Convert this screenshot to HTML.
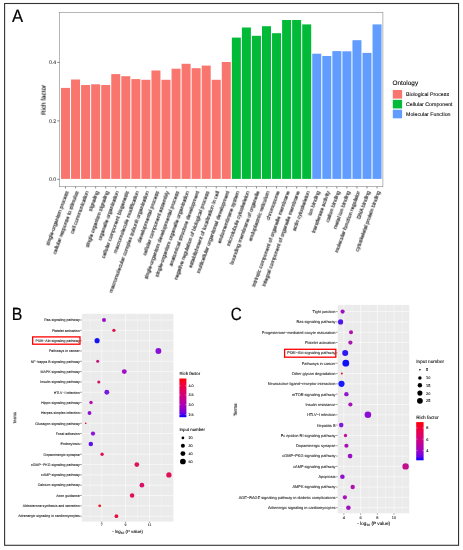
<!DOCTYPE html>
<html lang="en">
<head>
<meta charset="utf-8">
<title>GO and KEGG enrichment figure</title>
<style>
html,body{margin:0;padding:0;background:#fff;}
body{width:463px;height:550px;overflow:hidden;}
svg{display:block;font-family:"Liberation Sans", Arial, Helvetica, sans-serif;}
svg text{text-rendering:geometricPrecision;}
svg .sm text{filter:blur(0.3px);}
svg .sm text.big{filter:blur(0.2px);}
</style>
</head>
<body>
<svg width="463" height="550" viewBox="0 0 463 550">
<rect x="0" y="0" width="463" height="550" fill="#ffffff"/>
<g id="panelA" class="sm">
<text class="big" transform="translate(12,22) scale(0.94,1)" font-size="17.7" fill="#000" stroke="#000" stroke-width="0.2">A</text>
<g shape-rendering="geometricPrecision">
<rect x="61.00" y="87.90" width="9.0" height="91.00" fill="#F8766D"/>
<rect x="71.05" y="79.50" width="9.0" height="99.40" fill="#F8766D"/>
<rect x="81.10" y="85.00" width="9.0" height="93.90" fill="#F8766D"/>
<rect x="91.15" y="84.30" width="9.0" height="94.60" fill="#F8766D"/>
<rect x="101.20" y="85.00" width="9.0" height="93.90" fill="#F8766D"/>
<rect x="111.25" y="74.10" width="9.0" height="104.80" fill="#F8766D"/>
<rect x="121.30" y="76.20" width="9.0" height="102.70" fill="#F8766D"/>
<rect x="131.35" y="79.10" width="9.0" height="99.80" fill="#F8766D"/>
<rect x="141.40" y="79.80" width="9.0" height="99.10" fill="#F8766D"/>
<rect x="151.45" y="70.50" width="9.0" height="108.40" fill="#F8766D"/>
<rect x="161.50" y="79.80" width="9.0" height="99.10" fill="#F8766D"/>
<rect x="171.55" y="68.70" width="9.0" height="110.20" fill="#F8766D"/>
<rect x="181.60" y="63.80" width="9.0" height="115.10" fill="#F8766D"/>
<rect x="191.65" y="68.20" width="9.0" height="110.70" fill="#F8766D"/>
<rect x="201.70" y="65.60" width="9.0" height="113.30" fill="#F8766D"/>
<rect x="211.75" y="79.80" width="9.0" height="99.10" fill="#F8766D"/>
<rect x="221.80" y="62.00" width="9.0" height="116.90" fill="#F8766D"/>
<rect x="231.85" y="37.60" width="9.0" height="141.30" fill="#00BA38"/>
<rect x="241.90" y="27.50" width="9.0" height="151.40" fill="#00BA38"/>
<rect x="251.95" y="35.80" width="9.0" height="143.10" fill="#00BA38"/>
<rect x="262.00" y="26.20" width="9.0" height="152.70" fill="#00BA38"/>
<rect x="272.05" y="33.20" width="9.0" height="145.70" fill="#00BA38"/>
<rect x="282.10" y="20.00" width="9.0" height="158.90" fill="#00BA38"/>
<rect x="292.15" y="20.00" width="9.0" height="158.90" fill="#00BA38"/>
<rect x="302.20" y="24.40" width="9.0" height="154.50" fill="#00BA38"/>
<rect x="312.25" y="53.70" width="9.0" height="125.20" fill="#619CFF"/>
<rect x="322.30" y="56.00" width="9.0" height="122.90" fill="#619CFF"/>
<rect x="332.35" y="51.10" width="9.0" height="127.80" fill="#619CFF"/>
<rect x="342.40" y="51.30" width="9.0" height="127.60" fill="#619CFF"/>
<rect x="352.45" y="40.20" width="9.0" height="138.70" fill="#619CFF"/>
<rect x="362.50" y="52.90" width="9.0" height="126.00" fill="#619CFF"/>
<rect x="372.55" y="24.40" width="9.0" height="154.50" fill="#619CFF"/>
</g>
<rect x="59.4" y="12.3" width="323.50" height="174.40" fill="none" stroke="#858585" stroke-width="0.6"/>
<line x1="57.20" x2="59.4" y1="62.4" y2="62.4" stroke="#333" stroke-width="0.6"/>
<text x="56.199999999999996" y="64.20" font-size="5.2" text-anchor="end" fill="#333" stroke="#333" stroke-width="0.08">0.4</text>
<line x1="57.20" x2="59.4" y1="120.9" y2="120.9" stroke="#333" stroke-width="0.6"/>
<text x="56.199999999999996" y="122.70" font-size="5.2" text-anchor="end" fill="#333" stroke="#333" stroke-width="0.08">0.2</text>
<line x1="57.20" x2="59.4" y1="179.3" y2="179.3" stroke="#333" stroke-width="0.6"/>
<text x="56.199999999999996" y="181.10" font-size="5.2" text-anchor="end" fill="#333" stroke="#333" stroke-width="0.08">0.0</text>
<text transform="translate(45.6,99.9) rotate(-90)" font-size="6.3" text-anchor="middle" fill="#000" stroke="#000" stroke-width="0.08">Rich factor</text>
<line x1="65.50" x2="65.50" y1="186.7" y2="188.40" stroke="#333" stroke-width="0.6"/>
<text transform="translate(68.70,191.80) rotate(-70)" font-size="5.3" text-anchor="end" fill="#262626" stroke="#262626" stroke-width="0.16">single-organism process</text>
<line x1="75.55" x2="75.55" y1="186.7" y2="188.40" stroke="#333" stroke-width="0.6"/>
<text transform="translate(78.75,191.80) rotate(-70)" font-size="5.3" text-anchor="end" fill="#262626" stroke="#262626" stroke-width="0.16">cellular response to stimulus</text>
<line x1="85.60" x2="85.60" y1="186.7" y2="188.40" stroke="#333" stroke-width="0.6"/>
<text transform="translate(88.80,191.80) rotate(-70)" font-size="5.3" text-anchor="end" fill="#262626" stroke="#262626" stroke-width="0.16">cell communication</text>
<line x1="95.65" x2="95.65" y1="186.7" y2="188.40" stroke="#333" stroke-width="0.6"/>
<text transform="translate(98.85,191.80) rotate(-70)" font-size="5.3" text-anchor="end" fill="#262626" stroke="#262626" stroke-width="0.16">signaling</text>
<line x1="105.70" x2="105.70" y1="186.7" y2="188.40" stroke="#333" stroke-width="0.6"/>
<text transform="translate(108.90,191.80) rotate(-70)" font-size="5.3" text-anchor="end" fill="#262626" stroke="#262626" stroke-width="0.16">single organism signaling</text>
<line x1="115.75" x2="115.75" y1="186.7" y2="188.40" stroke="#333" stroke-width="0.6"/>
<text transform="translate(118.95,191.80) rotate(-70)" font-size="5.3" text-anchor="end" fill="#262626" stroke="#262626" stroke-width="0.16">organelle organization</text>
<line x1="125.80" x2="125.80" y1="186.7" y2="188.40" stroke="#333" stroke-width="0.6"/>
<text transform="translate(129.00,191.80) rotate(-70)" font-size="5.3" text-anchor="end" fill="#262626" stroke="#262626" stroke-width="0.16">cellular component biogenesis</text>
<line x1="135.85" x2="135.85" y1="186.7" y2="188.40" stroke="#333" stroke-width="0.6"/>
<text transform="translate(139.05,191.80) rotate(-70)" font-size="5.3" text-anchor="end" fill="#262626" stroke="#262626" stroke-width="0.16">macromolecule modification</text>
<line x1="145.90" x2="145.90" y1="186.7" y2="188.40" stroke="#333" stroke-width="0.6"/>
<text transform="translate(149.10,191.80) rotate(-70)" font-size="5.3" text-anchor="end" fill="#262626" stroke="#262626" stroke-width="0.16">macromolecular complex subunit organization</text>
<line x1="155.95" x2="155.95" y1="186.7" y2="188.40" stroke="#333" stroke-width="0.6"/>
<text transform="translate(159.15,191.80) rotate(-70)" font-size="5.3" text-anchor="end" fill="#262626" stroke="#262626" stroke-width="0.16">developmental process</text>
<line x1="166.00" x2="166.00" y1="186.7" y2="188.40" stroke="#333" stroke-width="0.6"/>
<text transform="translate(169.20,191.80) rotate(-70)" font-size="5.3" text-anchor="end" fill="#262626" stroke="#262626" stroke-width="0.16">cellular component assembly</text>
<line x1="176.05" x2="176.05" y1="186.7" y2="188.40" stroke="#333" stroke-width="0.6"/>
<text transform="translate(179.25,191.80) rotate(-70)" font-size="5.3" text-anchor="end" fill="#262626" stroke="#262626" stroke-width="0.16">single-organism developmental process</text>
<line x1="186.10" x2="186.10" y1="186.7" y2="188.40" stroke="#333" stroke-width="0.6"/>
<text transform="translate(189.30,191.80) rotate(-70)" font-size="5.3" text-anchor="end" fill="#262626" stroke="#262626" stroke-width="0.16">single-organism organelle organization</text>
<line x1="196.15" x2="196.15" y1="186.7" y2="188.40" stroke="#333" stroke-width="0.6"/>
<text transform="translate(199.35,191.80) rotate(-70)" font-size="5.3" text-anchor="end" fill="#262626" stroke="#262626" stroke-width="0.16">anatomical structure development</text>
<line x1="206.20" x2="206.20" y1="186.7" y2="188.40" stroke="#333" stroke-width="0.6"/>
<text transform="translate(209.40,191.80) rotate(-70)" font-size="5.3" text-anchor="end" fill="#262626" stroke="#262626" stroke-width="0.16">negative regulation of biological process</text>
<line x1="216.25" x2="216.25" y1="186.7" y2="188.40" stroke="#333" stroke-width="0.6"/>
<text transform="translate(219.45,191.80) rotate(-70)" font-size="5.3" text-anchor="end" fill="#262626" stroke="#262626" stroke-width="0.16">establishment of localization in cell</text>
<line x1="226.30" x2="226.30" y1="186.7" y2="188.40" stroke="#333" stroke-width="0.6"/>
<text transform="translate(229.50,191.80) rotate(-70)" font-size="5.3" text-anchor="end" fill="#262626" stroke="#262626" stroke-width="0.16">multicellular organismal development</text>
<line x1="236.35" x2="236.35" y1="186.7" y2="188.40" stroke="#333" stroke-width="0.6"/>
<text transform="translate(239.55,191.80) rotate(-70)" font-size="5.3" text-anchor="end" fill="#262626" stroke="#262626" stroke-width="0.16">endomembrane system</text>
<line x1="246.40" x2="246.40" y1="186.7" y2="188.40" stroke="#333" stroke-width="0.6"/>
<text transform="translate(249.60,191.80) rotate(-70)" font-size="5.3" text-anchor="end" fill="#262626" stroke="#262626" stroke-width="0.16">microtubule cytoskeleton</text>
<line x1="256.45" x2="256.45" y1="186.7" y2="188.40" stroke="#333" stroke-width="0.6"/>
<text transform="translate(259.65,191.80) rotate(-70)" font-size="5.3" text-anchor="end" fill="#262626" stroke="#262626" stroke-width="0.16">bounding membrane of organelle</text>
<line x1="266.50" x2="266.50" y1="186.7" y2="188.40" stroke="#333" stroke-width="0.6"/>
<text transform="translate(269.70,191.80) rotate(-70)" font-size="5.3" text-anchor="end" fill="#262626" stroke="#262626" stroke-width="0.16">endoplasmic reticulum</text>
<line x1="276.55" x2="276.55" y1="186.7" y2="188.40" stroke="#333" stroke-width="0.6"/>
<text transform="translate(279.75,191.80) rotate(-70)" font-size="5.3" text-anchor="end" fill="#262626" stroke="#262626" stroke-width="0.16">chromosome</text>
<line x1="286.60" x2="286.60" y1="186.7" y2="188.40" stroke="#333" stroke-width="0.6"/>
<text transform="translate(289.80,191.80) rotate(-70)" font-size="5.3" text-anchor="end" fill="#262626" stroke="#262626" stroke-width="0.16">intrinsic component of organelle membrane</text>
<line x1="296.65" x2="296.65" y1="186.7" y2="188.40" stroke="#333" stroke-width="0.6"/>
<text transform="translate(299.85,191.80) rotate(-70)" font-size="5.3" text-anchor="end" fill="#262626" stroke="#262626" stroke-width="0.16">integral component of organelle membrane</text>
<line x1="306.70" x2="306.70" y1="186.7" y2="188.40" stroke="#333" stroke-width="0.6"/>
<text transform="translate(309.90,191.80) rotate(-70)" font-size="5.3" text-anchor="end" fill="#262626" stroke="#262626" stroke-width="0.16">actin cytoskeleton</text>
<line x1="316.75" x2="316.75" y1="186.7" y2="188.40" stroke="#333" stroke-width="0.6"/>
<text transform="translate(319.95,191.80) rotate(-70)" font-size="5.3" text-anchor="end" fill="#262626" stroke="#262626" stroke-width="0.16">ion binding</text>
<line x1="326.80" x2="326.80" y1="186.7" y2="188.40" stroke="#333" stroke-width="0.6"/>
<text transform="translate(330.00,191.80) rotate(-70)" font-size="5.3" text-anchor="end" fill="#262626" stroke="#262626" stroke-width="0.16">transferase activity</text>
<line x1="336.85" x2="336.85" y1="186.7" y2="188.40" stroke="#333" stroke-width="0.6"/>
<text transform="translate(340.05,191.80) rotate(-70)" font-size="5.3" text-anchor="end" fill="#262626" stroke="#262626" stroke-width="0.16">cation binding</text>
<line x1="346.90" x2="346.90" y1="186.7" y2="188.40" stroke="#333" stroke-width="0.6"/>
<text transform="translate(350.10,191.80) rotate(-70)" font-size="5.3" text-anchor="end" fill="#262626" stroke="#262626" stroke-width="0.16">metal ion binding</text>
<line x1="356.95" x2="356.95" y1="186.7" y2="188.40" stroke="#333" stroke-width="0.6"/>
<text transform="translate(360.15,191.80) rotate(-70)" font-size="5.3" text-anchor="end" fill="#262626" stroke="#262626" stroke-width="0.16">molecular function regulator</text>
<line x1="367.00" x2="367.00" y1="186.7" y2="188.40" stroke="#333" stroke-width="0.6"/>
<text transform="translate(370.20,191.80) rotate(-70)" font-size="5.3" text-anchor="end" fill="#262626" stroke="#262626" stroke-width="0.16">DNA binding</text>
<line x1="377.05" x2="377.05" y1="186.7" y2="188.40" stroke="#333" stroke-width="0.6"/>
<text transform="translate(380.25,191.80) rotate(-70)" font-size="5.3" text-anchor="end" fill="#262626" stroke="#262626" stroke-width="0.16">cytoskeletal protein binding</text>
<text x="392.5" y="85.2" font-size="6.4" fill="#000" stroke="#000" stroke-width="0.08">Ontology</text>
<rect x="392.8" y="90.00" width="9.3" height="8.6" fill="#F8766D"/>
<text x="406" y="96.10" font-size="5.27" fill="#000" stroke="#000" stroke-width="0.08">Biological Process</text>
<rect x="392.8" y="99.85" width="9.3" height="8.6" fill="#00BA38"/>
<text x="406" y="105.95" font-size="5.27" fill="#000" stroke="#000" stroke-width="0.08">Cellular Component</text>
<rect x="392.8" y="109.70" width="9.3" height="8.6" fill="#619CFF"/>
<text x="406" y="115.80" font-size="5.27" fill="#000" stroke="#000" stroke-width="0.08">Molecular Function</text>
</g>
<g id="panelB" class="sm">
<text class="big" transform="translate(11.8,319.9) scale(0.9,1)" font-size="17.7" fill="#000" stroke="#000" stroke-width="0.2">B</text>
<rect x="81.9" y="313.8" width="91.50" height="207.80" fill="#EBEBEB"/>
<line x1="89.90" x2="89.90" y1="313.8" y2="521.6" stroke="#FFFFFF" stroke-width="0.3" opacity="0.8"/>
<line x1="113.70" x2="113.70" y1="313.8" y2="521.6" stroke="#FFFFFF" stroke-width="0.3" opacity="0.8"/>
<line x1="137.60" x2="137.60" y1="313.8" y2="521.6" stroke="#FFFFFF" stroke-width="0.3" opacity="0.8"/>
<line x1="161.50" x2="161.50" y1="313.8" y2="521.6" stroke="#FFFFFF" stroke-width="0.3" opacity="0.8"/>
<line x1="101.80" x2="101.80" y1="313.8" y2="521.6" stroke="#FFFFFF" stroke-width="0.55"/>
<line x1="125.60" x2="125.60" y1="313.8" y2="521.6" stroke="#FFFFFF" stroke-width="0.55"/>
<line x1="149.60" x2="149.60" y1="313.8" y2="521.6" stroke="#FFFFFF" stroke-width="0.55"/>
<line x1="81.9" x2="173.4" y1="320.00" y2="320.00" stroke="#FFFFFF" stroke-width="0.55"/>
<line x1="81.9" x2="173.4" y1="330.32" y2="330.32" stroke="#FFFFFF" stroke-width="0.55"/>
<line x1="81.9" x2="173.4" y1="340.65" y2="340.65" stroke="#FFFFFF" stroke-width="0.55"/>
<line x1="81.9" x2="173.4" y1="350.98" y2="350.98" stroke="#FFFFFF" stroke-width="0.55"/>
<line x1="81.9" x2="173.4" y1="361.30" y2="361.30" stroke="#FFFFFF" stroke-width="0.55"/>
<line x1="81.9" x2="173.4" y1="371.62" y2="371.62" stroke="#FFFFFF" stroke-width="0.55"/>
<line x1="81.9" x2="173.4" y1="381.95" y2="381.95" stroke="#FFFFFF" stroke-width="0.55"/>
<line x1="81.9" x2="173.4" y1="392.27" y2="392.27" stroke="#FFFFFF" stroke-width="0.55"/>
<line x1="81.9" x2="173.4" y1="402.60" y2="402.60" stroke="#FFFFFF" stroke-width="0.55"/>
<line x1="81.9" x2="173.4" y1="412.93" y2="412.93" stroke="#FFFFFF" stroke-width="0.55"/>
<line x1="81.9" x2="173.4" y1="423.25" y2="423.25" stroke="#FFFFFF" stroke-width="0.55"/>
<line x1="81.9" x2="173.4" y1="433.57" y2="433.57" stroke="#FFFFFF" stroke-width="0.55"/>
<line x1="81.9" x2="173.4" y1="443.90" y2="443.90" stroke="#FFFFFF" stroke-width="0.55"/>
<line x1="81.9" x2="173.4" y1="454.23" y2="454.23" stroke="#FFFFFF" stroke-width="0.55"/>
<line x1="81.9" x2="173.4" y1="464.55" y2="464.55" stroke="#FFFFFF" stroke-width="0.55"/>
<line x1="81.9" x2="173.4" y1="474.88" y2="474.88" stroke="#FFFFFF" stroke-width="0.55"/>
<line x1="81.9" x2="173.4" y1="485.20" y2="485.20" stroke="#FFFFFF" stroke-width="0.55"/>
<line x1="81.9" x2="173.4" y1="495.52" y2="495.52" stroke="#FFFFFF" stroke-width="0.55"/>
<line x1="81.9" x2="173.4" y1="505.85" y2="505.85" stroke="#FFFFFF" stroke-width="0.55"/>
<line x1="81.9" x2="173.4" y1="516.17" y2="516.17" stroke="#FFFFFF" stroke-width="0.55"/>
<line x1="80.00" x2="81.9" y1="320.00" y2="320.00" stroke="#333" stroke-width="0.45"/>
<text x="79.70" y="321.28" font-size="3.55" text-anchor="end" fill="#363636" stroke="#363636" stroke-width="0.11">Ras signaling pathway</text>
<circle cx="104.0" cy="320.00" r="2.05" fill="#9B10C8"/>
<line x1="80.00" x2="81.9" y1="330.32" y2="330.32" stroke="#333" stroke-width="0.45"/>
<text x="79.70" y="331.60" font-size="3.55" text-anchor="end" fill="#363636" stroke="#363636" stroke-width="0.11">Platelet activation</text>
<circle cx="113.9" cy="330.32" r="1.65" fill="#E0104A"/>
<line x1="80.00" x2="81.9" y1="340.65" y2="340.65" stroke="#333" stroke-width="0.45"/>
<text x="79.70" y="341.93" font-size="3.55" text-anchor="end" fill="#363636" stroke="#363636" stroke-width="0.11">PI3K−Akt signaling pathway</text>
<circle cx="97.1" cy="340.65" r="2.55" fill="#1414F0"/>
<line x1="80.00" x2="81.9" y1="350.98" y2="350.98" stroke="#333" stroke-width="0.45"/>
<text x="79.70" y="352.25" font-size="3.55" text-anchor="end" fill="#363636" stroke="#363636" stroke-width="0.11">Pathways in cancer</text>
<circle cx="158.4" cy="350.98" r="2.95" fill="#8A10D8"/>
<line x1="80.00" x2="81.9" y1="361.30" y2="361.30" stroke="#333" stroke-width="0.45"/>
<text x="79.70" y="362.58" font-size="3.55" text-anchor="end" fill="#363636" stroke="#363636" stroke-width="0.11">NF−kappa B signaling pathway</text>
<circle cx="97.7" cy="361.30" r="1.55" fill="#C81478"/>
<line x1="80.00" x2="81.9" y1="371.62" y2="371.62" stroke="#333" stroke-width="0.45"/>
<text x="79.70" y="372.90" font-size="3.55" text-anchor="end" fill="#363636" stroke="#363636" stroke-width="0.11">MAPK signaling pathway</text>
<circle cx="124.3" cy="371.62" r="2.45" fill="#A010C8"/>
<line x1="80.00" x2="81.9" y1="381.95" y2="381.95" stroke="#333" stroke-width="0.45"/>
<text x="79.70" y="383.23" font-size="3.55" text-anchor="end" fill="#363636" stroke="#363636" stroke-width="0.11">Insulin signaling pathway</text>
<circle cx="98.8" cy="381.95" r="1.55" fill="#D01460"/>
<line x1="80.00" x2="81.9" y1="392.27" y2="392.27" stroke="#333" stroke-width="0.45"/>
<text x="79.70" y="393.55" font-size="3.55" text-anchor="end" fill="#363636" stroke="#363636" stroke-width="0.11">HTLV−I infection</text>
<circle cx="106.8" cy="392.27" r="2.45" fill="#7818E0"/>
<line x1="80.00" x2="81.9" y1="402.60" y2="402.60" stroke="#333" stroke-width="0.45"/>
<text x="79.70" y="403.88" font-size="3.55" text-anchor="end" fill="#363636" stroke="#363636" stroke-width="0.11">Hippo signaling pathway</text>
<circle cx="91.0" cy="402.60" r="1.75" fill="#B010B0"/>
<line x1="80.00" x2="81.9" y1="412.93" y2="412.93" stroke="#333" stroke-width="0.45"/>
<text x="79.70" y="414.20" font-size="3.55" text-anchor="end" fill="#363636" stroke="#363636" stroke-width="0.11">Herpes simplex infection</text>
<circle cx="89.5" cy="412.93" r="1.95" fill="#9010D0"/>
<line x1="80.00" x2="81.9" y1="423.25" y2="423.25" stroke="#333" stroke-width="0.45"/>
<text x="79.70" y="424.53" font-size="3.55" text-anchor="end" fill="#363636" stroke="#363636" stroke-width="0.11">Glucagon signaling pathway</text>
<circle cx="85.7" cy="423.25" r="0.85" fill="#F01020"/>
<line x1="80.00" x2="81.9" y1="433.57" y2="433.57" stroke="#333" stroke-width="0.45"/>
<text x="79.70" y="434.85" font-size="3.55" text-anchor="end" fill="#363636" stroke="#363636" stroke-width="0.11">Focal adhesion</text>
<circle cx="93.0" cy="433.57" r="2.15" fill="#8A18D8"/>
<line x1="80.00" x2="81.9" y1="443.90" y2="443.90" stroke="#333" stroke-width="0.45"/>
<text x="79.70" y="445.18" font-size="3.55" text-anchor="end" fill="#363636" stroke="#363636" stroke-width="0.11">Endocytosis</text>
<circle cx="90.8" cy="443.90" r="2.25" fill="#5A10E8"/>
<line x1="80.00" x2="81.9" y1="454.23" y2="454.23" stroke="#333" stroke-width="0.45"/>
<text x="79.70" y="455.50" font-size="3.55" text-anchor="end" fill="#363636" stroke="#363636" stroke-width="0.11">Dopaminergic synapse</text>
<circle cx="102.1" cy="454.23" r="1.65" fill="#E01050"/>
<line x1="80.00" x2="81.9" y1="464.55" y2="464.55" stroke="#333" stroke-width="0.45"/>
<text x="79.70" y="465.83" font-size="3.55" text-anchor="end" fill="#363636" stroke="#363636" stroke-width="0.11">cGMP−PKG signaling pathway</text>
<circle cx="136.8" cy="464.55" r="2.35" fill="#E0105A"/>
<line x1="80.00" x2="81.9" y1="474.88" y2="474.88" stroke="#333" stroke-width="0.45"/>
<text x="79.70" y="476.15" font-size="3.55" text-anchor="end" fill="#363636" stroke="#363636" stroke-width="0.11">cAMP signaling pathway</text>
<circle cx="168.9" cy="474.88" r="2.65" fill="#E01058"/>
<line x1="80.00" x2="81.9" y1="485.20" y2="485.20" stroke="#333" stroke-width="0.45"/>
<text x="79.70" y="486.48" font-size="3.55" text-anchor="end" fill="#363636" stroke="#363636" stroke-width="0.11">Calcium signaling pathway</text>
<circle cx="141.9" cy="485.20" r="2.35" fill="#D81068"/>
<line x1="80.00" x2="81.9" y1="495.52" y2="495.52" stroke="#333" stroke-width="0.45"/>
<text x="79.70" y="496.80" font-size="3.55" text-anchor="end" fill="#363636" stroke="#363636" stroke-width="0.11">Axon guidance</text>
<circle cx="132.1" cy="495.52" r="2.25" fill="#E01058"/>
<line x1="80.00" x2="81.9" y1="505.85" y2="505.85" stroke="#333" stroke-width="0.45"/>
<text x="79.70" y="507.13" font-size="3.55" text-anchor="end" fill="#363636" stroke="#363636" stroke-width="0.11">Aldosterone synthesis and secretion</text>
<circle cx="99.7" cy="505.85" r="1.45" fill="#F02020"/>
<line x1="80.00" x2="81.9" y1="516.17" y2="516.17" stroke="#333" stroke-width="0.45"/>
<text x="79.70" y="517.45" font-size="3.55" text-anchor="end" fill="#363636" stroke="#363636" stroke-width="0.11">Adrenergic signaling in cardiomyocytes</text>
<circle cx="116.4" cy="516.17" r="1.85" fill="#E81040"/>
<line x1="101.8" x2="101.8" y1="521.6" y2="523.10" stroke="#333" stroke-width="0.45"/>
<text x="101.8" y="525.7" font-size="3.55" text-anchor="middle" fill="#333" stroke="#333" stroke-width="0.1">7</text>
<line x1="125.6" x2="125.6" y1="521.6" y2="523.10" stroke="#333" stroke-width="0.45"/>
<text x="125.6" y="525.7" font-size="3.55" text-anchor="middle" fill="#333" stroke="#333" stroke-width="0.1">9</text>
<line x1="149.6" x2="149.6" y1="521.6" y2="523.10" stroke="#333" stroke-width="0.45"/>
<text x="149.6" y="525.7" font-size="3.55" text-anchor="middle" fill="#333" stroke="#333" stroke-width="0.1">11</text>
<text x="127.6" y="533.0" font-size="4.4" text-anchor="middle" fill="#000" stroke="#000" stroke-width="0.08">- log<tspan font-size="3.08" dy="0.9">10</tspan><tspan dy="-0.9"> (P value)</tspan></text>
<text transform="translate(16.3,418) rotate(-90)" font-size="4.4" text-anchor="middle" fill="#000" stroke="#000" stroke-width="0.08">Terms</text>
<rect x="32.65" y="336.9" width="47.35" height="7.30" fill="none" stroke="#FF0000" stroke-width="1.3"/>
</g>
<g id="legendB" class="sm">
<defs><linearGradient id="gB" x1="0" y1="1" x2="0" y2="0"><stop offset="0" stop-color="#0000FF"/><stop offset="0.1" stop-color="#6800E7"/><stop offset="0.2" stop-color="#8D00CE"/><stop offset="0.3" stop-color="#A600B7"/><stop offset="0.4" stop-color="#BA009F"/><stop offset="0.5" stop-color="#CA0088"/><stop offset="0.6" stop-color="#D70072"/><stop offset="0.7" stop-color="#E3005B"/><stop offset="0.8" stop-color="#ED0044"/><stop offset="0.9" stop-color="#F6002A"/><stop offset="1" stop-color="#FF0000"/></linearGradient></defs>
<text x="179.4" y="375.2" font-size="4.35" fill="#000" stroke="#000" stroke-width="0.08">Rich factor</text>
<rect x="179.4" y="378.5" width="7" height="38.7" fill="url(#gB)"/>
<line x1="179.4" x2="180.8" y1="385.7" y2="385.7" stroke="#fff" stroke-width="0.3"/><line x1="185" x2="186.4" y1="385.7" y2="385.7" stroke="#fff" stroke-width="0.3"/>
<text x="188.5" y="387.03" font-size="3.72" fill="#000" stroke="#000" stroke-width="0.08">4.0</text>
<line x1="179.4" x2="180.8" y1="394.9" y2="394.9" stroke="#fff" stroke-width="0.3"/><line x1="185" x2="186.4" y1="394.9" y2="394.9" stroke="#fff" stroke-width="0.3"/>
<text x="188.5" y="396.23" font-size="3.72" fill="#000" stroke="#000" stroke-width="0.08">3.5</text>
<line x1="179.4" x2="180.8" y1="404.7" y2="404.7" stroke="#fff" stroke-width="0.3"/><line x1="185" x2="186.4" y1="404.7" y2="404.7" stroke="#fff" stroke-width="0.3"/>
<text x="188.5" y="406.03" font-size="3.72" fill="#000" stroke="#000" stroke-width="0.08">3.0</text>
<line x1="179.4" x2="180.8" y1="414.5" y2="414.5" stroke="#fff" stroke-width="0.3"/><line x1="185" x2="186.4" y1="414.5" y2="414.5" stroke="#fff" stroke-width="0.3"/>
<text x="188.5" y="415.83" font-size="3.72" fill="#000" stroke="#000" stroke-width="0.08">2.5</text>
<text x="179.4" y="431.2" font-size="4.35" fill="#000" stroke="#000" stroke-width="0.08">Input number</text>
<circle cx="182.9" cy="437.9" r="1.35" fill="#000"/>
<text x="188.5" y="439.23" font-size="3.72" fill="#000" stroke="#000" stroke-width="0.08">20</text>
<circle cx="182.9" cy="445.8" r="2.0" fill="#000"/>
<text x="188.5" y="447.13" font-size="3.72" fill="#000" stroke="#000" stroke-width="0.08">30</text>
<circle cx="182.9" cy="453.6" r="2.45" fill="#000"/>
<text x="188.5" y="454.93" font-size="3.72" fill="#000" stroke="#000" stroke-width="0.08">40</text>
<circle cx="182.9" cy="461.5" r="2.85" fill="#000"/>
<text x="188.5" y="462.83" font-size="3.72" fill="#000" stroke="#000" stroke-width="0.08">50</text>
</g>
<g id="panelC" class="sm">
<text class="big" transform="translate(230.7,320.0) scale(0.86,1)" font-size="17.7" fill="#000" stroke="#000" stroke-width="0.2">C</text>
<rect x="337.7" y="304.9" width="71.60" height="208.40" fill="#EBEBEB"/>
<line x1="352.20" x2="352.20" y1="304.9" y2="513.3" stroke="#FFFFFF" stroke-width="0.3" opacity="0.8"/>
<line x1="368.90" x2="368.90" y1="304.9" y2="513.3" stroke="#FFFFFF" stroke-width="0.3" opacity="0.8"/>
<line x1="385.60" x2="385.60" y1="304.9" y2="513.3" stroke="#FFFFFF" stroke-width="0.3" opacity="0.8"/>
<line x1="402.40" x2="402.40" y1="304.9" y2="513.3" stroke="#FFFFFF" stroke-width="0.3" opacity="0.8"/>
<line x1="343.80" x2="343.80" y1="304.9" y2="513.3" stroke="#FFFFFF" stroke-width="0.55"/>
<line x1="360.60" x2="360.60" y1="304.9" y2="513.3" stroke="#FFFFFF" stroke-width="0.55"/>
<line x1="377.30" x2="377.30" y1="304.9" y2="513.3" stroke="#FFFFFF" stroke-width="0.55"/>
<line x1="394.00" x2="394.00" y1="304.9" y2="513.3" stroke="#FFFFFF" stroke-width="0.55"/>
<line x1="337.7" x2="409.3" y1="311.60" y2="311.60" stroke="#FFFFFF" stroke-width="0.55"/>
<line x1="337.7" x2="409.3" y1="321.92" y2="321.92" stroke="#FFFFFF" stroke-width="0.55"/>
<line x1="337.7" x2="409.3" y1="332.24" y2="332.24" stroke="#FFFFFF" stroke-width="0.55"/>
<line x1="337.7" x2="409.3" y1="342.56" y2="342.56" stroke="#FFFFFF" stroke-width="0.55"/>
<line x1="337.7" x2="409.3" y1="352.88" y2="352.88" stroke="#FFFFFF" stroke-width="0.55"/>
<line x1="337.7" x2="409.3" y1="363.20" y2="363.20" stroke="#FFFFFF" stroke-width="0.55"/>
<line x1="337.7" x2="409.3" y1="373.52" y2="373.52" stroke="#FFFFFF" stroke-width="0.55"/>
<line x1="337.7" x2="409.3" y1="383.84" y2="383.84" stroke="#FFFFFF" stroke-width="0.55"/>
<line x1="337.7" x2="409.3" y1="394.16" y2="394.16" stroke="#FFFFFF" stroke-width="0.55"/>
<line x1="337.7" x2="409.3" y1="404.48" y2="404.48" stroke="#FFFFFF" stroke-width="0.55"/>
<line x1="337.7" x2="409.3" y1="414.80" y2="414.80" stroke="#FFFFFF" stroke-width="0.55"/>
<line x1="337.7" x2="409.3" y1="425.12" y2="425.12" stroke="#FFFFFF" stroke-width="0.55"/>
<line x1="337.7" x2="409.3" y1="435.44" y2="435.44" stroke="#FFFFFF" stroke-width="0.55"/>
<line x1="337.7" x2="409.3" y1="445.76" y2="445.76" stroke="#FFFFFF" stroke-width="0.55"/>
<line x1="337.7" x2="409.3" y1="456.08" y2="456.08" stroke="#FFFFFF" stroke-width="0.55"/>
<line x1="337.7" x2="409.3" y1="466.40" y2="466.40" stroke="#FFFFFF" stroke-width="0.55"/>
<line x1="337.7" x2="409.3" y1="476.72" y2="476.72" stroke="#FFFFFF" stroke-width="0.55"/>
<line x1="337.7" x2="409.3" y1="487.04" y2="487.04" stroke="#FFFFFF" stroke-width="0.55"/>
<line x1="337.7" x2="409.3" y1="497.36" y2="497.36" stroke="#FFFFFF" stroke-width="0.55"/>
<line x1="337.7" x2="409.3" y1="507.68" y2="507.68" stroke="#FFFFFF" stroke-width="0.55"/>
<line x1="335.80" x2="337.7" y1="311.60" y2="311.60" stroke="#333" stroke-width="0.45"/>
<text x="335.50" y="313.00" font-size="3.9" text-anchor="end" fill="#363636" stroke="#363636" stroke-width="0.11">Tight junction</text>
<circle cx="342.6" cy="311.60" r="2.10" fill="#A010C0"/>
<line x1="335.80" x2="337.7" y1="321.92" y2="321.92" stroke="#333" stroke-width="0.45"/>
<text x="335.50" y="323.32" font-size="3.9" text-anchor="end" fill="#363636" stroke="#363636" stroke-width="0.11">Ras signaling pathway</text>
<circle cx="340.6" cy="321.92" r="2.60" fill="#5018E8"/>
<line x1="335.80" x2="337.7" y1="332.24" y2="332.24" stroke="#333" stroke-width="0.45"/>
<text x="335.50" y="333.64" font-size="3.9" text-anchor="end" fill="#363636" stroke="#363636" stroke-width="0.11">Progesterone−mediated oocyte maturation</text>
<circle cx="351.0" cy="332.24" r="2.00" fill="#B010A8"/>
<line x1="335.80" x2="337.7" y1="342.56" y2="342.56" stroke="#333" stroke-width="0.45"/>
<text x="335.50" y="343.96" font-size="3.9" text-anchor="end" fill="#363636" stroke="#363636" stroke-width="0.11">Platelet activation</text>
<circle cx="350.4" cy="342.56" r="2.10" fill="#A818B0"/>
<line x1="335.80" x2="337.7" y1="352.88" y2="352.88" stroke="#333" stroke-width="0.45"/>
<text x="335.50" y="354.28" font-size="3.9" text-anchor="end" fill="#363636" stroke="#363636" stroke-width="0.11">PI3K−Akt signaling pathway</text>
<circle cx="345.2" cy="352.88" r="3.00" fill="#3018F0"/>
<line x1="335.80" x2="337.7" y1="363.20" y2="363.20" stroke="#333" stroke-width="0.45"/>
<text x="335.50" y="364.60" font-size="3.9" text-anchor="end" fill="#363636" stroke="#363636" stroke-width="0.11">Pathways in cancer</text>
<circle cx="345.8" cy="363.20" r="3.40" fill="#1010F8"/>
<line x1="335.80" x2="337.7" y1="373.52" y2="373.52" stroke="#333" stroke-width="0.45"/>
<text x="335.50" y="374.92" font-size="3.9" text-anchor="end" fill="#363636" stroke="#363636" stroke-width="0.11">Other glycan degradation</text>
<circle cx="341.8" cy="373.52" r="1.00" fill="#F01020"/>
<line x1="335.80" x2="337.7" y1="383.84" y2="383.84" stroke="#333" stroke-width="0.45"/>
<text x="335.50" y="385.24" font-size="3.9" text-anchor="end" fill="#363636" stroke="#363636" stroke-width="0.11">Neuroactive ligand−receptor interaction</text>
<circle cx="341.5" cy="383.84" r="3.10" fill="#1818F8"/>
<line x1="335.80" x2="337.7" y1="394.16" y2="394.16" stroke="#333" stroke-width="0.45"/>
<text x="335.50" y="395.56" font-size="3.9" text-anchor="end" fill="#363636" stroke="#363636" stroke-width="0.11">mTOR signaling pathway</text>
<circle cx="346.4" cy="394.16" r="2.20" fill="#9018D0"/>
<line x1="335.80" x2="337.7" y1="404.48" y2="404.48" stroke="#333" stroke-width="0.45"/>
<text x="335.50" y="405.88" font-size="3.9" text-anchor="end" fill="#363636" stroke="#363636" stroke-width="0.11">Insulin resistance</text>
<circle cx="350.4" cy="404.48" r="2.10" fill="#A810B8"/>
<line x1="335.80" x2="337.7" y1="414.80" y2="414.80" stroke="#333" stroke-width="0.45"/>
<text x="335.50" y="416.20" font-size="3.9" text-anchor="end" fill="#363636" stroke="#363636" stroke-width="0.11">HTLV−I infection</text>
<circle cx="367.9" cy="414.80" r="3.30" fill="#8A10D8"/>
<line x1="335.80" x2="337.7" y1="425.12" y2="425.12" stroke="#333" stroke-width="0.45"/>
<text x="335.50" y="426.52" font-size="3.9" text-anchor="end" fill="#363636" stroke="#363636" stroke-width="0.11">Hepatitis B</text>
<circle cx="341.2" cy="425.12" r="2.30" fill="#8018E0"/>
<line x1="335.80" x2="337.7" y1="435.44" y2="435.44" stroke="#333" stroke-width="0.45"/>
<text x="335.50" y="436.84" font-size="3.9" text-anchor="end" fill="#363636" stroke="#363636" stroke-width="0.11">Fc epsilon RI signaling pathway</text>
<circle cx="345.5" cy="435.44" r="1.70" fill="#C010A0"/>
<line x1="335.80" x2="337.7" y1="445.76" y2="445.76" stroke="#333" stroke-width="0.45"/>
<text x="335.50" y="447.16" font-size="3.9" text-anchor="end" fill="#363636" stroke="#363636" stroke-width="0.11">Dopaminergic synapse</text>
<circle cx="346.4" cy="445.76" r="2.10" fill="#A810B8"/>
<line x1="335.80" x2="337.7" y1="456.08" y2="456.08" stroke="#333" stroke-width="0.45"/>
<text x="335.50" y="457.48" font-size="3.9" text-anchor="end" fill="#363636" stroke="#363636" stroke-width="0.11">cGMP−PKG signaling pathway</text>
<circle cx="350.1" cy="456.08" r="2.40" fill="#9810C8"/>
<line x1="335.80" x2="337.7" y1="466.40" y2="466.40" stroke="#333" stroke-width="0.45"/>
<text x="335.50" y="467.80" font-size="3.9" text-anchor="end" fill="#363636" stroke="#363636" stroke-width="0.11">cAMP signaling pathway</text>
<circle cx="405.6" cy="466.40" r="3.20" fill="#C01090"/>
<line x1="335.80" x2="337.7" y1="476.72" y2="476.72" stroke="#333" stroke-width="0.45"/>
<text x="335.50" y="478.12" font-size="3.9" text-anchor="end" fill="#363636" stroke="#363636" stroke-width="0.11">Apoptosis</text>
<circle cx="342.4" cy="476.72" r="2.30" fill="#9010D0"/>
<line x1="335.80" x2="337.7" y1="487.04" y2="487.04" stroke="#333" stroke-width="0.45"/>
<text x="335.50" y="488.44" font-size="3.9" text-anchor="end" fill="#363636" stroke="#363636" stroke-width="0.11">AMPK signaling pathway</text>
<circle cx="352.7" cy="487.04" r="2.20" fill="#B010B0"/>
<line x1="335.80" x2="337.7" y1="497.36" y2="497.36" stroke="#333" stroke-width="0.45"/>
<text x="335.50" y="498.76" font-size="3.9" text-anchor="end" fill="#363636" stroke="#363636" stroke-width="0.11">AGE−RAGE signaling pathway in diabetic complications</text>
<circle cx="344.9" cy="497.36" r="2.10" fill="#A810B8"/>
<line x1="335.80" x2="337.7" y1="507.68" y2="507.68" stroke="#333" stroke-width="0.45"/>
<text x="335.50" y="509.08" font-size="3.9" text-anchor="end" fill="#363636" stroke="#363636" stroke-width="0.11">Adrenergic signaling in cardiomyocytes</text>
<circle cx="348.4" cy="507.68" r="2.30" fill="#A010C0"/>
<line x1="343.8" x2="343.8" y1="513.3" y2="514.80" stroke="#333" stroke-width="0.45"/>
<text x="343.8" y="519.0" font-size="3.9" text-anchor="middle" fill="#333" stroke="#333" stroke-width="0.1">4</text>
<line x1="360.6" x2="360.6" y1="513.3" y2="514.80" stroke="#333" stroke-width="0.45"/>
<text x="360.6" y="519.0" font-size="3.9" text-anchor="middle" fill="#333" stroke="#333" stroke-width="0.1">6</text>
<line x1="377.3" x2="377.3" y1="513.3" y2="514.80" stroke="#333" stroke-width="0.45"/>
<text x="377.3" y="519.0" font-size="3.9" text-anchor="middle" fill="#333" stroke="#333" stroke-width="0.1">8</text>
<line x1="394.0" x2="394.0" y1="513.3" y2="514.80" stroke="#333" stroke-width="0.45"/>
<text x="394.0" y="519.0" font-size="3.9" text-anchor="middle" fill="#333" stroke="#333" stroke-width="0.1">10</text>
<text x="373.7" y="524.9" font-size="4.7" text-anchor="middle" fill="#000" stroke="#000" stroke-width="0.08">- log<tspan font-size="3.29" dy="0.9">10</tspan><tspan dy="-0.9"> (P value)</tspan></text>
<text transform="translate(237.0,409.7) rotate(-90)" font-size="4.7" text-anchor="middle" fill="#000" stroke="#000" stroke-width="0.08">Terms</text>
<rect x="284.6" y="349.3" width="51.20" height="7.90" fill="none" stroke="#FF0000" stroke-width="1.3"/>
</g>
<g id="legendC" class="sm">
<text x="416.2" y="362.8" font-size="4.75" fill="#000" stroke="#000" stroke-width="0.08">Input number</text>
<circle cx="419.9" cy="369.8" r="0.8" fill="#000"/>
<text x="426" y="371.20" font-size="3.85" fill="#000" stroke="#000" stroke-width="0.08">5</text>
<circle cx="419.9" cy="377.9" r="1.75" fill="#000"/>
<text x="426" y="379.30" font-size="3.85" fill="#000" stroke="#000" stroke-width="0.08">10</text>
<circle cx="419.9" cy="385.3" r="2.2" fill="#000"/>
<text x="426" y="386.70" font-size="3.85" fill="#000" stroke="#000" stroke-width="0.08">15</text>
<circle cx="419.9" cy="393.1" r="2.55" fill="#000"/>
<text x="426" y="394.50" font-size="3.85" fill="#000" stroke="#000" stroke-width="0.08">20</text>
<circle cx="419.9" cy="400.8" r="2.9" fill="#000"/>
<text x="426" y="402.20" font-size="3.85" fill="#000" stroke="#000" stroke-width="0.08">25</text>
<text x="416.2" y="418.9" font-size="4.75" fill="#000" stroke="#000" stroke-width="0.08">Rich factor</text>
<rect x="416.2" y="422.1" width="7.4" height="38.2" fill="url(#gB)"/>
<line x1="416.2" x2="417.7" y1="427.9" y2="427.9" stroke="#fff" stroke-width="0.3"/><line x1="422.1" x2="423.6" y1="427.9" y2="427.9" stroke="#fff" stroke-width="0.3"/>
<text x="426.2" y="429.30" font-size="3.85" fill="#000" stroke="#000" stroke-width="0.08">8</text>
<line x1="416.2" x2="417.7" y1="439.1" y2="439.1" stroke="#fff" stroke-width="0.3"/><line x1="422.1" x2="423.6" y1="439.1" y2="439.1" stroke="#fff" stroke-width="0.3"/>
<text x="426.2" y="440.50" font-size="3.85" fill="#000" stroke="#000" stroke-width="0.08">6</text>
<line x1="416.2" x2="417.7" y1="450.6" y2="450.6" stroke="#fff" stroke-width="0.3"/><line x1="422.1" x2="423.6" y1="450.6" y2="450.6" stroke="#fff" stroke-width="0.3"/>
<text x="426.2" y="452.00" font-size="3.85" fill="#000" stroke="#000" stroke-width="0.08">4</text>
</g>
<rect x="4.6" y="3.5" width="453.95" height="541.8" fill="none" stroke="#333" stroke-width="1.1"/>
</svg>
</body>
</html>
